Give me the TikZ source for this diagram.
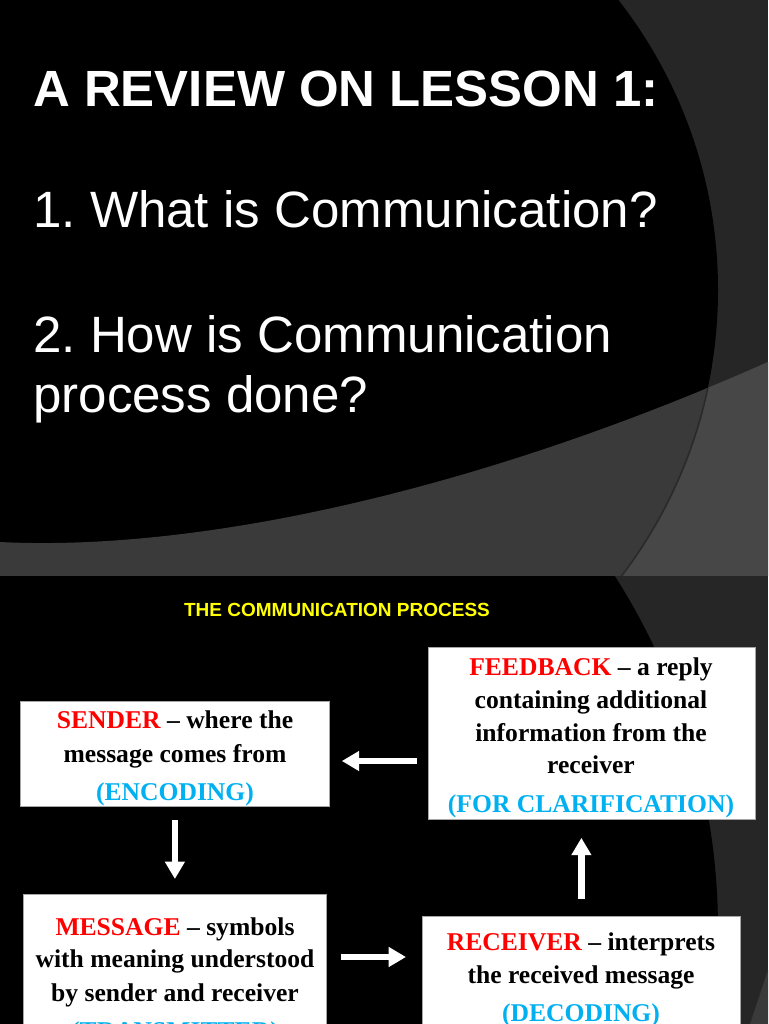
\documentclass[tikz,border=0pt]{standalone}
\usepackage{fontspec}
\setmainfont{Liberation Serif}
\newfontfamily\arialf{Liberation Sans}
\usetikzlibrary{arrows.meta}
\definecolor{pred}{HTML}{FF0000}
\definecolor{pblue}{HTML}{00B0F0}
\definecolor{pyellow}{HTML}{FFFF00}
\definecolor{bgA}{HTML}{262626}
\definecolor{bandA}{HTML}{3A3A3A}
\definecolor{bandB}{HTML}{474747}
\definecolor{arcline}{HTML}{2A2A2A}
\frenchspacing
\begin{document}
\begin{tikzpicture}[x=0.75pt,y=-0.75pt,
  box/.style={draw=gray!70, line width=0.6pt, fill=white, anchor=north west, inner sep=0pt},
  ltxt/.style={anchor=base, inner sep=0pt, font=\bfseries\fontsize{19.2}{23}\selectfont, text=black},
  htxt/.style={anchor=base west, inner sep=0pt, text=white, font=\arialf\fontsize{38.3}{45}\selectfont},
  warrow/.style={draw=white, line width=4.9pt, -{Triangle[width=14.25pt,length=13pt]}}]
\useasboundingbox (0,0) rectangle (768,1024);
\clip (0,0) rectangle (768,1024);
\def\sweep{(0,542) .. controls (200,552) and (480,490) .. (768,362) -- (768,576) -- (0,576) -- cycle}
% ---------- top slide background
\begin{scope}
  \clip (0,0) rectangle (768,576);
  \fill[bgA] (0,0) rectangle (768,576);
  \fill[black] (246,290) circle[radius=472];
  \fill[bandA] \sweep;
  \begin{scope}
    \clip \sweep;
    \fill[bandB, even odd rule] (0,0) rectangle (768,576) (246,290) circle[radius=472];
    \draw[arcline, line width=1.2pt] (246,290) circle[radius=472];
  \end{scope}
\end{scope}
% ---------- bottom slide background
\begin{scope}
  \clip (0,576) rectangle (768,1024);
  \fill[bgA] (0,576) rectangle (768,1024);
  \fill[black] (60,930) circle[radius=658];
  \fill[bandA] (768,970) -- (768,1024) -- (750,1024) -- cycle;
\end{scope}
% ---------- top slide text
\node[htxt, font=\arialf\bfseries\fontsize{38.2}{45}\selectfont] (t0) at (33,106) {A REVIEW ON LESSON 1:};
\node[htxt] (q1) at (33,227) {1. What is Communication?};
\node[htxt] (q2a) at (33,352) {2. How is Communication};
\node[htxt] (q2b) at (33,412) {process done?};
% ---------- bottom slide
\node[anchor=base, inner sep=0pt, text=pyellow, font=\arialf\bfseries\fontsize{14.25}{17}\selectfont] (ttl) at (337,616) {THE COMMUNICATION PROCESS};
\node[box, minimum width=231.75pt, minimum height=78.75pt] (sender) at (20,701) {};
\node[box, minimum width=245.25pt, minimum height=129pt] (feedback) at (428,647) {};
\node[box, minimum width=227.25pt, minimum height=112.5pt] (message) at (23,894) {};
\node[box, minimum width=238.5pt, minimum height=97.5pt] (receiver) at (422,916) {};
% sender text
\node[ltxt] (s1) at (175,728) {\textcolor{pred}{SENDER} – where the};
\node[ltxt] (s2) at (175,762) {message comes from};
\node[ltxt, text=pblue] (s3) at (175,800) {(ENCODING)};
% feedback text
\node[ltxt] (f1) at (591,675) {\textcolor{pred}{FEEDBACK} – a reply};
\node[ltxt] (f2) at (591,708) {containing additional};
\node[ltxt] (f3) at (591,741) {information from the};
\node[ltxt] (f4) at (591,773) {receiver};
\node[ltxt, text=pblue] (f5) at (591,812) {(FOR CLARIFICATION)};
% message text
\node[ltxt] (m1) at (175,935) {\textcolor{pred}{MESSAGE} – symbols};
\node[ltxt] (m2) at (175,967) {with meaning understood};
\node[ltxt] (m3) at (175,1001) {by sender and receiver};
\node[ltxt, text=pblue] (m4) at (175,1039) {(TRANSMITTED)};
% receiver text
\node[ltxt] (r1) at (581,950) {\textcolor{pred}{RECEIVER} – interprets};
\node[ltxt] (r2) at (581,983) {the received message};
\node[ltxt, text=pblue] (r3) at (581,1021) {(DECODING)};
% arrows
\coordinate (yL) at (0,761);
\coordinate (yR) at (0,957);
\draw[warrow, shorten <=8.25pt, shorten >=9pt] (feedback.west |- yL) -- (sender.east |- yL);
\draw[warrow, shorten <=9.75pt, shorten >=11.25pt] (sender.south) -- (message.north);
\draw[warrow, shorten <=10.5pt, shorten >=12pt] (message.east |- yR) -- (receiver.west |- yR);
\draw[warrow, shorten <=12.75pt, shorten >=13.5pt] (receiver.north) -- (receiver.north |- feedback.south);
\end{tikzpicture}
\end{document}
